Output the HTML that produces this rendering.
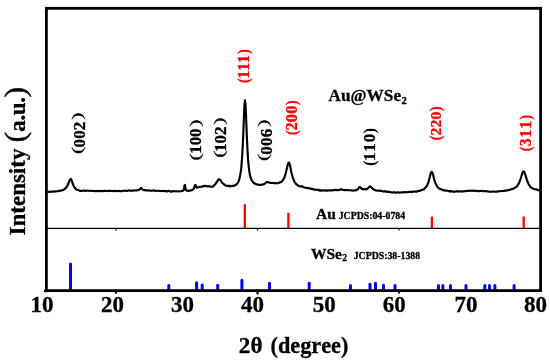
<!DOCTYPE html>
<html><head><meta charset="utf-8"><style>
html,body{margin:0;padding:0;background:#fff;}
svg{display:block;}
text{font-family:'Liberation Serif','Times New Roman',serif;font-kerning:none;font-feature-settings:"kern" 0;}
</style></head><body>
<svg width="550" height="364" viewBox="0 0 550 364" font-weight="bold">
<path d="M47.0,191.9 47.5,192.0 48.0,192.0 48.5,191.9 49.0,191.8 49.5,191.7 50.0,191.5 50.5,191.7 51.0,191.8 51.5,191.8 52.0,191.7 52.5,191.6 53.0,191.4 53.5,191.5 54.0,191.6 54.5,191.5 55.0,191.5 55.5,191.4 56.0,191.4 56.5,191.3 57.0,191.2 57.5,191.2 58.0,191.2 58.5,191.0 59.0,190.8 59.5,190.8 60.0,190.8 60.5,190.6 61.0,190.5 61.5,190.5 62.0,190.4 62.5,190.2 63.0,190.0 63.5,189.7 64.0,189.5 64.5,189.1 65.0,188.7 65.5,188.3 66.0,187.8 66.5,187.2 67.0,186.4 67.5,185.4 68.0,184.3 68.5,183.1 69.0,181.9 69.5,180.7 70.0,179.7 70.5,179.0 71.0,179.1 71.5,180.1 72.0,181.4 72.5,182.9 73.0,184.4 73.5,185.5 74.0,186.4 74.5,187.3 75.0,188.0 75.5,188.6 76.0,189.0 76.5,189.6 77.0,190.0 77.5,190.0 78.0,189.9 78.5,190.1 79.0,190.3 79.5,190.7 80.0,191.0 80.5,190.9 81.0,190.8 81.5,190.9 82.0,190.9 82.5,190.8 83.0,190.7 83.5,190.6 84.0,190.5 84.5,190.6 85.0,190.8 85.5,190.8 86.0,190.8 86.5,190.7 87.0,190.6 87.5,190.7 88.0,190.7 88.5,190.8 89.0,190.9 89.5,190.8 90.0,190.7 90.5,190.8 91.0,190.9 91.5,190.9 92.0,191.0 92.5,191.0 93.0,191.0 93.5,190.9 94.0,190.9 94.5,191.0 95.0,191.1 95.5,191.1 96.0,191.2 96.5,191.1 97.0,191.1 97.5,191.0 98.0,190.9 98.5,191.0 99.0,191.1 99.5,191.0 100.0,190.9 100.5,191.1 101.0,191.2 101.5,191.0 102.0,190.8 102.5,191.0 103.0,191.2 103.5,191.1 104.0,191.0 104.5,190.9 105.0,190.8 105.5,190.9 106.0,191.0 106.5,191.0 107.0,191.0 107.5,191.0 108.0,191.1 108.5,190.9 109.0,190.8 109.5,190.8 110.0,190.8 110.5,190.9 111.0,191.0 111.5,191.0 112.0,190.9 112.5,191.0 113.0,191.0 113.5,191.1 114.0,191.1 114.5,190.9 115.0,190.7 115.5,190.9 116.0,191.0 116.5,191.1 117.0,191.2 117.5,191.1 118.0,190.9 118.5,190.9 119.0,190.8 119.5,191.0 120.0,191.1 120.5,191.1 121.0,191.0 121.5,191.1 122.0,191.1 122.5,191.0 123.0,190.9 123.5,190.7 124.0,190.6 124.5,190.7 125.0,190.8 125.5,190.8 126.0,190.7 126.5,190.8 127.0,190.9 127.5,190.9 128.0,190.8 128.5,190.6 129.0,190.4 129.5,190.5 130.0,190.5 130.5,190.6 131.0,190.8 131.5,190.8 132.0,190.7 132.5,190.6 133.0,190.4 133.5,190.5 134.0,190.5 134.5,190.5 135.0,190.5 135.5,190.5 136.0,190.4 136.5,190.4 137.0,190.4 137.5,190.3 138.0,190.2 138.5,190.0 139.0,189.8 139.5,189.5 140.0,189.0 140.5,188.4 141.0,187.9 141.5,188.2 142.0,188.7 142.5,189.3 143.0,189.8 143.5,190.0 144.0,190.1 144.5,190.1 145.0,190.0 145.5,190.2 146.0,190.4 146.5,190.3 147.0,190.2 147.5,190.4 148.0,190.6 148.5,190.5 149.0,190.4 149.5,190.5 150.0,190.6 150.5,190.7 151.0,190.8 151.5,190.7 152.0,190.7 152.5,190.6 153.0,190.5 153.5,190.4 154.0,190.4 154.5,190.7 155.0,191.0 155.5,190.9 156.0,190.7 156.5,190.7 157.0,190.7 157.5,190.8 158.0,190.9 158.5,190.8 159.0,190.8 159.5,190.9 160.0,191.1 160.5,191.0 161.0,191.0 161.5,191.0 162.0,191.0 162.5,190.9 163.0,190.9 163.5,191.0 164.0,191.2 164.5,191.0 165.0,190.9 165.5,191.1 166.0,191.3 166.5,191.4 167.0,191.5 167.5,191.2 168.0,190.9 168.5,190.9 169.0,190.8 169.5,191.1 170.0,191.4 170.5,191.6 171.0,191.8 171.5,191.4 172.0,191.1 172.5,191.1 173.0,191.1 173.5,191.3 174.0,191.4 174.5,191.3 175.0,191.2 175.5,191.2 176.0,191.2 176.5,191.2 177.0,191.3 177.5,191.3 178.0,191.4 178.5,191.3 179.0,191.2 179.5,191.3 180.0,191.3 180.5,191.2 181.0,191.2 181.5,191.1 182.0,190.9 182.5,190.9 183.0,190.8 183.5,190.3 184.0,188.8 184.5,185.5 185.0,184.9 185.5,188.2 186.0,190.0 186.5,190.4 187.0,190.5 187.5,190.8 188.0,191.0 188.5,190.9 189.0,190.7 189.5,190.6 190.0,190.6 190.5,190.5 191.0,190.4 191.5,190.2 192.0,189.9 192.5,189.7 193.0,189.4 193.5,189.0 194.0,188.2 194.5,186.7 195.0,185.2 195.5,185.0 196.0,186.1 196.5,187.2 197.0,187.7 197.5,187.6 198.0,187.4 198.5,187.3 199.0,187.1 199.5,187.0 200.0,186.8 200.5,186.7 201.0,186.7 201.5,186.7 202.0,186.8 202.5,186.4 203.0,186.1 203.5,186.1 204.0,186.2 204.5,186.0 205.0,185.7 205.5,185.9 206.0,186.1 206.5,186.2 207.0,186.3 207.5,186.3 208.0,186.2 208.5,186.3 209.0,186.3 209.5,186.4 210.0,186.6 210.5,186.6 211.0,186.7 211.5,186.7 212.0,186.6 212.5,186.6 213.0,186.5 213.5,186.1 214.0,185.6 214.5,185.1 215.0,184.5 215.5,183.9 216.0,183.2 216.5,182.4 217.0,181.6 217.5,180.8 218.0,180.1 218.5,179.5 219.0,179.3 219.5,179.4 220.0,179.8 220.5,180.2 221.0,180.7 221.5,181.7 222.0,182.6 222.5,183.1 223.0,183.5 223.5,183.9 224.0,184.3 224.5,184.7 225.0,185.1 225.5,185.4 226.0,185.6 226.5,185.7 227.0,185.7 227.5,185.8 228.0,185.8 228.5,185.8 229.0,185.7 229.5,186.1 230.0,186.5 230.5,186.3 231.0,186.2 231.5,186.0 232.0,185.8 232.5,185.9 233.0,185.9 233.5,185.8 234.0,185.8 234.5,185.5 235.0,185.1 235.5,185.0 236.0,184.8 236.5,184.3 237.0,183.7 237.5,183.2 238.0,182.5 238.5,181.5 239.0,180.2 239.5,178.3 240.0,175.9 240.5,173.4 241.0,170.1 241.5,165.1 242.0,158.6 242.5,150.5 243.0,140.4 243.5,128.0 244.0,115.0 244.5,104.6 245.0,100.4 245.5,104.4 246.0,114.6 246.5,127.6 247.0,140.1 247.5,150.4 248.0,158.6 248.5,164.6 249.0,169.0 249.5,172.6 250.0,175.3 250.5,177.2 251.0,178.6 251.5,179.8 252.0,180.8 252.5,181.4 253.0,181.9 253.5,182.7 254.0,183.4 254.5,183.5 255.0,183.5 255.5,183.8 256.0,184.1 256.5,184.3 257.0,184.5 257.5,184.6 258.0,184.6 258.5,184.7 259.0,184.8 259.5,184.8 260.0,184.8 260.5,184.9 261.0,184.9 261.5,184.8 262.0,184.6 262.5,184.6 263.0,184.5 263.5,184.3 264.0,184.1 264.5,183.8 265.0,183.4 265.5,183.0 266.0,182.6 266.5,182.2 267.0,182.0 267.5,182.1 268.0,182.3 268.5,182.4 269.0,182.5 269.5,182.7 270.0,182.8 270.5,182.9 271.0,182.9 271.5,183.0 272.0,183.0 272.5,183.0 273.0,182.9 273.5,183.1 274.0,183.3 274.5,183.2 275.0,183.0 275.5,183.1 276.0,183.1 276.5,183.2 277.0,183.3 277.5,183.2 278.0,183.2 278.5,183.0 279.0,182.8 279.5,182.5 280.0,182.2 280.5,182.1 281.0,182.1 281.5,181.7 282.0,181.3 282.5,180.6 283.0,179.8 283.5,179.2 284.0,178.5 284.5,177.2 285.0,175.7 285.5,174.0 286.0,172.1 286.5,170.0 287.0,167.8 287.5,165.6 288.0,163.7 288.5,162.6 289.0,162.6 289.5,163.5 290.0,165.2 290.5,167.9 291.0,170.7 291.5,172.8 292.0,174.7 292.5,176.5 293.0,178.0 293.5,179.5 294.0,180.9 294.5,181.7 295.0,182.5 295.5,183.2 296.0,183.9 296.5,184.3 297.0,184.7 297.5,185.2 298.0,185.5 298.5,185.9 299.0,186.1 299.5,186.2 300.0,186.3 300.5,186.5 301.0,186.6 301.5,186.3 302.0,186.0 302.5,186.4 303.0,186.8 303.5,187.1 304.0,187.4 304.5,187.5 305.0,187.7 305.5,187.7 306.0,187.7 306.5,187.8 307.0,187.8 307.5,188.1 308.0,188.3 308.5,188.2 309.0,188.1 309.5,188.3 310.0,188.5 310.5,188.7 311.0,188.9 311.5,188.9 312.0,188.8 312.5,189.0 313.0,189.3 313.5,189.3 314.0,189.4 314.5,189.6 315.0,189.8 315.5,189.7 316.0,189.6 316.5,189.7 317.0,189.8 317.5,190.0 318.0,190.1 318.5,189.9 319.0,189.8 319.5,190.3 320.0,190.9 320.5,190.6 321.0,190.2 321.5,190.3 322.0,190.3 322.5,190.5 323.0,190.6 323.5,190.5 324.0,190.5 324.5,190.3 325.0,190.2 325.5,190.4 326.0,190.6 326.5,190.6 327.0,190.7 327.5,190.5 328.0,190.4 328.5,190.4 329.0,190.4 329.5,190.5 330.0,190.5 330.5,190.4 331.0,190.2 331.5,190.3 332.0,190.4 332.5,190.4 333.0,190.3 333.5,190.2 334.0,190.1 334.5,190.0 335.0,189.9 335.5,190.0 336.0,190.1 336.5,190.0 337.0,190.0 337.5,190.1 338.0,190.2 338.5,190.1 339.0,190.0 339.5,189.9 340.0,189.7 340.5,189.3 341.0,189.2 341.5,189.5 342.0,189.7 342.5,189.7 343.0,189.7 343.5,189.9 344.0,190.0 344.5,190.2 345.0,190.3 345.5,190.1 346.0,190.0 346.5,190.0 347.0,190.0 347.5,190.1 348.0,190.1 348.5,190.2 349.0,190.2 349.5,190.2 350.0,190.2 350.5,190.3 351.0,190.4 351.5,190.4 352.0,190.4 352.5,190.6 353.0,190.7 353.5,190.6 354.0,190.4 354.5,190.4 355.0,190.4 355.5,190.3 356.0,190.3 356.5,190.0 357.0,189.6 357.5,189.5 358.0,189.2 358.5,188.5 359.0,187.6 359.5,187.1 360.0,187.0 360.5,187.4 361.0,188.0 361.5,188.6 362.0,189.0 362.5,189.1 363.0,189.1 363.5,189.3 364.0,189.5 364.5,189.3 365.0,189.1 365.5,189.3 366.0,189.5 366.5,189.2 367.0,188.9 367.5,188.6 368.0,188.2 368.5,187.7 369.0,187.1 369.5,186.6 370.0,186.3 370.5,186.4 371.0,186.9 371.5,187.5 372.0,188.1 372.5,188.6 373.0,189.0 373.5,189.4 374.0,189.7 374.5,189.8 375.0,190.0 375.5,190.2 376.0,190.4 376.5,190.5 377.0,190.6 377.5,190.6 378.0,190.6 378.5,190.7 379.0,190.8 379.5,190.6 380.0,190.5 380.5,190.8 381.0,191.0 381.5,191.0 382.0,191.0 382.5,191.2 383.0,191.3 383.5,191.5 384.0,191.6 384.5,191.3 385.0,191.1 385.5,191.4 386.0,191.7 386.5,191.6 387.0,191.6 387.5,191.8 388.0,192.0 388.5,191.9 389.0,191.8 389.5,191.9 390.0,192.0 390.5,192.2 391.0,192.3 391.5,192.4 392.0,192.5 392.5,192.5 393.0,192.4 393.5,192.4 394.0,192.4 394.5,192.4 395.0,192.4 395.5,192.6 396.0,192.7 396.5,192.6 397.0,192.5 397.5,192.4 398.0,192.2 398.5,192.4 399.0,192.6 399.5,192.6 400.0,192.5 400.5,192.5 401.0,192.5 401.5,192.4 402.0,192.3 402.5,192.4 403.0,192.4 403.5,192.3 404.0,192.1 404.5,192.2 405.0,192.3 405.5,192.2 406.0,192.1 406.5,192.1 407.0,192.2 407.5,192.2 408.0,192.2 408.5,192.0 409.0,191.9 409.5,191.9 410.0,191.9 410.5,191.9 411.0,191.9 411.5,191.9 412.0,192.0 412.5,191.9 413.0,191.8 413.5,191.6 414.0,191.4 414.5,191.5 415.0,191.6 415.5,191.6 416.0,191.5 416.5,191.6 417.0,191.6 417.5,191.2 418.0,190.8 418.5,190.8 419.0,190.8 419.5,190.9 420.0,190.9 420.5,190.6 421.0,190.2 421.5,190.0 422.0,189.8 422.5,189.8 423.0,189.7 423.5,189.4 424.0,189.2 424.5,188.6 425.0,188.0 425.5,187.6 426.0,187.1 426.5,186.3 427.0,185.4 427.5,184.5 428.0,183.4 428.5,181.8 429.0,180.0 429.5,178.2 430.0,176.3 430.5,174.2 431.0,172.6 431.5,171.9 432.0,172.0 432.5,172.9 433.0,174.5 433.5,176.5 434.0,178.6 434.5,180.3 435.0,181.9 435.5,183.2 436.0,184.2 436.5,185.3 437.0,186.3 437.5,187.0 438.0,187.5 438.5,187.9 439.0,188.3 439.5,188.6 440.0,188.9 440.5,189.1 441.0,189.4 441.5,189.4 442.0,189.5 442.5,189.8 443.0,190.1 443.5,190.2 444.0,190.4 444.5,190.4 445.0,190.4 445.5,190.6 446.0,190.8 446.5,190.7 447.0,190.6 447.5,190.8 448.0,190.9 448.5,191.0 449.0,191.1 449.5,191.3 450.0,191.6 450.5,191.3 451.0,191.0 451.5,191.3 452.0,191.5 452.5,191.6 453.0,191.6 453.5,191.6 454.0,191.5 454.5,191.6 455.0,191.7 455.5,191.5 456.0,191.4 456.5,191.2 457.0,191.1 457.5,191.4 458.0,191.7 458.5,191.5 459.0,191.3 459.5,191.4 460.0,191.5 460.5,191.4 461.0,191.3 461.5,191.4 462.0,191.6 462.5,191.5 463.0,191.5 463.5,191.3 464.0,191.1 464.5,191.2 465.0,191.3 465.5,191.2 466.0,191.0 466.5,191.0 467.0,190.9 467.5,190.9 468.0,190.8 468.5,190.8 469.0,190.7 469.5,190.8 470.0,190.8 470.5,190.8 471.0,190.7 471.5,190.7 472.0,190.6 472.5,190.7 473.0,190.9 473.5,190.7 474.0,190.6 474.5,190.7 475.0,190.8 475.5,190.8 476.0,190.9 476.5,191.0 477.0,191.1 477.5,190.9 478.0,190.8 478.5,191.0 479.0,191.2 479.5,191.1 480.0,191.0 480.5,191.0 481.0,191.0 481.5,190.9 482.0,190.9 482.5,191.1 483.0,191.2 483.5,191.2 484.0,191.2 484.5,191.1 485.0,191.1 485.5,191.1 486.0,191.1 486.5,191.2 487.0,191.3 487.5,191.3 488.0,191.3 488.5,191.5 489.0,191.7 489.5,191.7 490.0,191.8 490.5,191.7 491.0,191.7 491.5,191.7 492.0,191.6 492.5,191.5 493.0,191.5 493.5,191.5 494.0,191.5 494.5,191.6 495.0,191.6 495.5,191.7 496.0,191.8 496.5,191.7 497.0,191.6 497.5,191.5 498.0,191.3 498.5,191.3 499.0,191.3 499.5,191.2 500.0,191.1 500.5,191.1 501.0,191.0 501.5,191.0 502.0,191.0 502.5,191.0 503.0,190.9 503.5,191.0 504.0,191.1 504.5,190.8 505.0,190.6 505.5,190.6 506.0,190.6 506.5,190.6 507.0,190.5 507.5,190.3 508.0,190.0 508.5,190.1 509.0,190.1 509.5,189.9 510.0,189.7 510.5,189.5 511.0,189.3 511.5,189.2 512.0,189.1 512.5,188.9 513.0,188.7 513.5,188.5 514.0,188.3 514.5,188.0 515.0,187.7 515.5,187.4 516.0,187.1 516.5,186.7 517.0,186.2 517.5,185.5 518.0,184.6 518.5,183.9 519.0,183.0 519.5,181.8 520.0,180.4 520.5,179.1 521.0,177.6 521.5,176.0 522.0,174.4 522.5,172.9 523.0,171.8 523.5,171.4 524.0,171.6 524.5,172.4 525.0,173.8 525.5,175.3 526.0,176.9 526.5,178.5 527.0,180.1 527.5,181.5 528.0,182.8 528.5,183.9 529.0,184.8 529.5,185.5 530.0,186.1 530.5,186.8 531.0,187.5 531.5,187.7 532.0,187.8 532.5,188.2 533.0,188.6 533.5,188.9 534.0,189.1 534.5,189.2 535.0,189.2 535.5,189.3 536.0,189.4 536.5,189.5 537.0,189.6 537.5,189.8 538.0,190.0 538.5,190.2 539.0,190.4 539.5,190.4 540.0,190.3" fill="none" stroke="#000" stroke-width="2.15" stroke-linejoin="round"/>
<line x1="244.8" y1="204.2" x2="244.8" y2="228.4" stroke="#f00" stroke-width="2.3"/>
<line x1="288.4" y1="212.8" x2="288.4" y2="228.4" stroke="#f00" stroke-width="2.3"/>
<line x1="431.9" y1="216.6" x2="431.9" y2="228.4" stroke="#f00" stroke-width="2.3"/>
<line x1="523.7" y1="216.5" x2="523.7" y2="228.4" stroke="#f00" stroke-width="2.3"/>
<line x1="70.5" y1="264.0" x2="70.5" y2="290" stroke="#00f" stroke-width="3" stroke-linecap="round"/>
<line x1="168.8" y1="285.6" x2="168.8" y2="290" stroke="#00f" stroke-width="3" stroke-linecap="round"/>
<line x1="196.6" y1="282.7" x2="196.6" y2="290" stroke="#00f" stroke-width="3" stroke-linecap="round"/>
<line x1="202.2" y1="285.0" x2="202.2" y2="290" stroke="#00f" stroke-width="3" stroke-linecap="round"/>
<line x1="217.7" y1="285.3" x2="217.7" y2="290" stroke="#00f" stroke-width="3" stroke-linecap="round"/>
<line x1="241.9" y1="280.2" x2="241.9" y2="290" stroke="#00f" stroke-width="3" stroke-linecap="round"/>
<line x1="269.5" y1="283.3" x2="269.5" y2="290" stroke="#00f" stroke-width="3" stroke-linecap="round"/>
<line x1="309.2" y1="283.3" x2="309.2" y2="290" stroke="#00f" stroke-width="3" stroke-linecap="round"/>
<line x1="350.5" y1="285.5" x2="350.5" y2="290" stroke="#00f" stroke-width="3" stroke-linecap="round"/>
<line x1="370" y1="284.3" x2="370" y2="290" stroke="#00f" stroke-width="3" stroke-linecap="round"/>
<line x1="375.5" y1="283.3" x2="375.5" y2="290" stroke="#00f" stroke-width="3" stroke-linecap="round"/>
<line x1="383.5" y1="285.3" x2="383.5" y2="290" stroke="#00f" stroke-width="3" stroke-linecap="round"/>
<line x1="395" y1="285.5" x2="395" y2="290" stroke="#00f" stroke-width="3" stroke-linecap="round"/>
<line x1="438.5" y1="285.4" x2="438.5" y2="290" stroke="#00f" stroke-width="3" stroke-linecap="round"/>
<line x1="442.9" y1="285.4" x2="442.9" y2="290" stroke="#00f" stroke-width="3" stroke-linecap="round"/>
<line x1="450.5" y1="285.4" x2="450.5" y2="290" stroke="#00f" stroke-width="3" stroke-linecap="round"/>
<line x1="466" y1="285.4" x2="466" y2="290" stroke="#00f" stroke-width="3" stroke-linecap="round"/>
<line x1="484.8" y1="285.4" x2="484.8" y2="290" stroke="#00f" stroke-width="3" stroke-linecap="round"/>
<line x1="489.5" y1="285.4" x2="489.5" y2="290" stroke="#00f" stroke-width="3" stroke-linecap="round"/>
<line x1="494.9" y1="285.4" x2="494.9" y2="290" stroke="#00f" stroke-width="3" stroke-linecap="round"/>
<line x1="514.1" y1="285.4" x2="514.1" y2="290" stroke="#00f" stroke-width="3" stroke-linecap="round"/>
<line x1="46" y1="228.4" x2="540" y2="228.4" stroke="#000" stroke-width="1.4"/>
<line x1="115.9" y1="228.4" x2="115.9" y2="230.5" stroke="#000" stroke-width="1.2"/>
<line x1="115.9" y1="290.6" x2="115.9" y2="292.8" stroke="#000" stroke-width="2.2" stroke-linecap="round"/>
<line x1="257.5" y1="228.4" x2="257.5" y2="230.5" stroke="#000" stroke-width="1.2"/>
<line x1="257.5" y1="290.6" x2="257.5" y2="293.6" stroke="#000" stroke-width="2.2" stroke-linecap="round"/>
<line x1="399" y1="228.4" x2="399" y2="230.5" stroke="#000" stroke-width="1.2"/>
<line x1="399" y1="290.6" x2="399" y2="292.6" stroke="#000" stroke-width="2.2" stroke-linecap="round"/>
<rect x="46.4" y="8.3" width="494.2" height="282.3" fill="none" stroke="#000" stroke-width="2.8"/>
<line x1="45.3" y1="290.7" x2="47" y2="290.7" stroke="#000" stroke-width="3" stroke-linecap="round"/>
<text transform="translate(82.30,150.30) rotate(-90) scale(1.4,1)" text-anchor="middle" font-size="15.4" font-weight="normal" stroke="#000" stroke-width="0.25" fill="#000">(</text>
<text transform="translate(84.80,147.45) rotate(-90)" font-size="17" letter-spacing="0.14" fill="#000" stroke="#000" stroke-width="0.35">002</text>
<text transform="translate(82.30,116.20) rotate(-90) scale(1.4,1)" text-anchor="middle" font-size="15.4" font-weight="normal" stroke="#000" stroke-width="0.25" fill="#000">)</text>
<text transform="translate(199.70,156.90) rotate(-90) scale(1.4,1)" text-anchor="middle" font-size="15.4" font-weight="normal" stroke="#000" stroke-width="0.25" fill="#000">(</text>
<text transform="translate(201.20,153.66) rotate(-90)" font-size="17" letter-spacing="-0.20" fill="#000" stroke="#000" stroke-width="0.35">100</text>
<text transform="translate(199.70,123.20) rotate(-90) scale(1.4,1)" text-anchor="middle" font-size="15.4" font-weight="normal" stroke="#000" stroke-width="0.25" fill="#000">)</text>
<text transform="translate(223.70,154.10) rotate(-90) scale(1.4,1)" text-anchor="middle" font-size="15.4" font-weight="normal" stroke="#000" stroke-width="0.25" fill="#000">(</text>
<text transform="translate(226.10,151.86) rotate(-90)" font-size="17" letter-spacing="-0.05" fill="#000" stroke="#000" stroke-width="0.35">102</text>
<text transform="translate(223.70,121.10) rotate(-90) scale(1.4,1)" text-anchor="middle" font-size="15.4" font-weight="normal" stroke="#000" stroke-width="0.25" fill="#000">)</text>
<text transform="translate(268.20,157.50) rotate(-90) scale(1.4,1)" text-anchor="middle" font-size="15.4" font-weight="normal" stroke="#000" stroke-width="0.25" fill="#000">(</text>
<text transform="translate(271.50,154.85) rotate(-90)" font-size="17" letter-spacing="0.32" fill="#000" stroke="#000" stroke-width="0.35">006</text>
<text transform="translate(268.20,123.10) rotate(-90) scale(1.4,1)" text-anchor="middle" font-size="15.4" font-weight="normal" stroke="#000" stroke-width="0.25" fill="#000">)</text>
<text transform="translate(374.50,163.10) rotate(-90)" text-anchor="middle" font-size="16.9" fill="#000">(</text>
<text transform="translate(374.50,161.06) rotate(-90)" font-size="17" letter-spacing="0.85" fill="#000" stroke="#000" stroke-width="0.35">110</text>
<text transform="translate(374.50,130.80) rotate(-90)" text-anchor="middle" font-size="16.9" fill="#000">)</text>
<text transform="translate(248.80,80.60) rotate(-90)" text-anchor="middle" font-size="16.0" fill="#f00">(</text>
<text transform="translate(248.80,78.50) rotate(-90)" font-size="15.7" letter-spacing="-0.10" fill="#f00" stroke="#f00" stroke-width="0.35">111</text>
<text transform="translate(248.80,51.70) rotate(-90)" text-anchor="middle" font-size="16.0" fill="#f00">)</text>
<text transform="translate(296.50,132.60) rotate(-90)" text-anchor="middle" font-size="16.0" fill="#f00">(</text>
<text transform="translate(296.50,130.49) rotate(-90)" font-size="16.5" letter-spacing="0.09" fill="#f00" stroke="#f00" stroke-width="0.35">200</text>
<text transform="translate(296.50,102.80) rotate(-90)" text-anchor="middle" font-size="16.0" fill="#f00">)</text>
<text transform="translate(440.80,137.90) rotate(-90)" text-anchor="middle" font-size="16.0" fill="#f00">(</text>
<text transform="translate(440.80,135.46) rotate(-90)" font-size="15.6" letter-spacing="0.22" fill="#f00" stroke="#f00" stroke-width="0.35">220</text>
<text transform="translate(440.80,108.80) rotate(-90)" text-anchor="middle" font-size="16.0" fill="#f00">)</text>
<text transform="translate(530.80,148.80) rotate(-90)" text-anchor="middle" font-size="16.0" fill="#f00">(</text>
<text transform="translate(530.80,146.30) rotate(-90)" font-size="15.7" letter-spacing="0.90" fill="#f00" stroke="#f00" stroke-width="0.35">311</text>
<text transform="translate(530.80,117.40) rotate(-90)" text-anchor="middle" font-size="16.0" fill="#f00">)</text>
<text x="42" y="312.2" text-anchor="middle" font-size="23" stroke="#000" stroke-width="0.3">10</text>
<text x="112.5" y="312.2" text-anchor="middle" font-size="23" stroke="#000" stroke-width="0.3">20</text>
<text x="182.5" y="312.2" text-anchor="middle" font-size="23" stroke="#000" stroke-width="0.3">30</text>
<text x="252.5" y="312.2" text-anchor="middle" font-size="23" stroke="#000" stroke-width="0.3">40</text>
<text x="324.3" y="312.2" text-anchor="middle" font-size="23" stroke="#000" stroke-width="0.3">50</text>
<text x="394.3" y="312.2" text-anchor="middle" font-size="23" stroke="#000" stroke-width="0.3">60</text>
<text x="466" y="312.2" text-anchor="middle" font-size="23" stroke="#000" stroke-width="0.3">70</text>
<text x="535.5" y="312.2" text-anchor="middle" font-size="23" stroke="#000" stroke-width="0.3">80</text>
<text transform="translate(328.6,101.4) scale(1.026,1)" font-size="16.8" stroke="#000" stroke-width="0.3">Au@WSe<tspan font-size="10.3" dy="2.5" dx="0.5">2</tspan></text>
<text x="316" y="219.2" font-size="15.5" stroke="#000" stroke-width="0.3">Au <tspan font-size="9.8" dx="-1">JCPDS:04-0784</tspan></text>
<text x="311.0" y="258.8" font-size="15.5" stroke="#000" stroke-width="0.3">WSe<tspan font-size="9.6" dy="2.3" dx="0.3">2</tspan><tspan dy="-2.3" font-size="9.8" dx="6.6">JCPDS:38-1388</tspan></text>
<text x="238.8" y="352.8" font-size="23.2" stroke="#000" stroke-width="0.3">2θ</text>
<text transform="translate(270.5,352.8) scale(0.96,1)" font-size="23.2" stroke="#000" stroke-width="0.3">(degree)</text>
<text transform="translate(25.0,235.48) rotate(-90)" font-size="23.0" stroke="#000" stroke-width="0.3">Intensity</text>
<text transform="translate(25.00,137.1) rotate(-90) scale(1.1,1)" text-anchor="middle" font-size="29.1" font-weight="normal" stroke="#000" stroke-width="0.3">(</text>
<text transform="translate(25.0,131.74) rotate(-90)" font-size="23.0" letter-spacing="-0.33" stroke="#000" stroke-width="0.3">a.u.</text>
<text transform="translate(25.00,92.25) rotate(-90) scale(1.1,1)" text-anchor="middle" font-size="29.1" font-weight="normal" stroke="#000" stroke-width="0.3">)</text>
</svg>
</body></html>
